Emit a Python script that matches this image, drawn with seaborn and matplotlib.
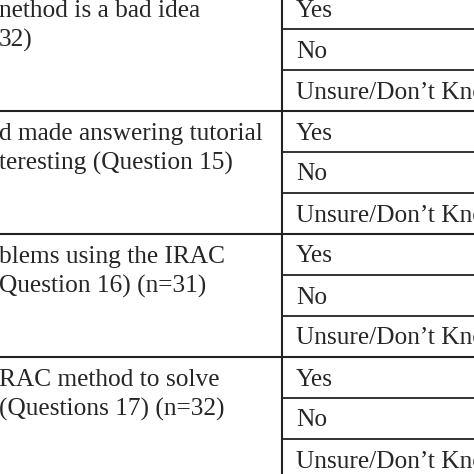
import matplotlib
matplotlib.use("Agg")
import matplotlib.pyplot as plt
import seaborn as sns

# visible fragments of the question column (cropped on the left in the source)
questions = [
    ["nethod is a bad idea", "32)"],
    ["d made answering tutorial", "teresting (Question 15)"],
    ["blems using the IRAC", "Question 16) (n=31)"],
    ["RAC method to solve", "(Questions 17) (n=32)"],
]
answers = ["Yes", "No", "Unsure/Don\u2019t Know"]

sns.set_style("white")
plt.rcParams['font.family'] = ['Liberation Serif', 'DejaVu Serif']

fig = plt.figure(figsize=(4.74, 4.74), dpi=100)
ax = fig.add_axes([0, 0, 1, 1])
ax.set_xlim(0, 474)
ax.set_ylim(474, 0)
ax.axis("off")

row_h = 41
group_h = 3 * row_h
top = -12
col_x = 282
fs = 18.3

for g, lines in enumerate(questions):
    g_top = top + g * group_h
    # question text lines
    for i, txt in enumerate(lines):
        ax.text(-1, g_top + 23 + i * 29, txt, fontsize=fs, va="center", ha="left")
    # answer rows
    for r, ans in enumerate(answers):
        y0 = g_top + r * row_h
        ax.text(296, y0 + row_h / 2 + 2, ans, fontsize=fs, va="center", ha="left", clip_on=True)
        if r > 0:
            ax.hlines(y0, col_x, 474, color="#222222", lw=1.3)
    if g > 0:
        ax.hlines(g_top, 0, 474, color="#222222", lw=1.5)

ax.vlines(col_x, 0, 474, color="#222222", lw=1.5)

fig.savefig("out.png", dpi=100)
